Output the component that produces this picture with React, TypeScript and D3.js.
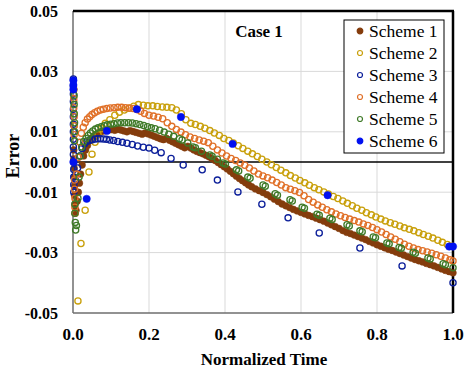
import React from 'react';
import * as d3 from 'd3';

// chart values (t = normalized time, v = error)
const scheme1: [number, number][] = [
  [0.002, 0.004], [0.002, 0.001], [0.003, -0.002], [0.003, -0.005], [0.004, -0.008], [0.004, -0.011], [0.005, -0.014], [0.005, -0.017],
  [0.008, -0.016], [0.011, -0.013], [0.014, -0.01], [0.017, -0.007], [0.02, -0.004], [0.024, -0.001], [0.028, 0.002], [0.033, 0.004],
  [0.038, 0.0055], [0.044, 0.007], [0.05, 0.008], [0.057, 0.0088], [0.064, 0.0094], [0.071, 0.0099], [0.078, 0.0102], [0.086, 0.0104],
  [0.094, 0.0106], [0.102, 0.0107], [0.11, 0.0105], [0.118, 0.0108], [0.126, 0.0106], [0.134, 0.0103], [0.142, 0.01], [0.15, 0.0104],
  [0.158, 0.0101], [0.166, 0.0098], [0.174, 0.0095], [0.182, 0.0092], [0.19, 0.0096], [0.198, 0.0093], [0.206, 0.0089], [0.214, 0.0085],
  [0.222, 0.0081], [0.23, 0.0077], [0.238, 0.0074], [0.246, 0.0078], [0.254, 0.0072], [0.262, 0.0067], [0.27, 0.0062], [0.278, 0.0057],
  [0.286, 0.0052], [0.294, 0.0047], [0.302, 0.0052], [0.31, 0.0046], [0.318, 0.004], [0.326, 0.0035], [0.334, 0.0031], [0.342, 0.0027],
  [0.35, 0.0022], [0.358, 0.0017], [0.366, 0.0011], [0.374, 0.0005], [0.382, -0.0002], [0.39, -0.0009], [0.398, -0.0016], [0.406, -0.0023],
  [0.414, -0.0031], [0.422, -0.0039], [0.43, -0.0047], [0.438, -0.0055], [0.446, -0.0062], [0.454, -0.0069], [0.462, -0.0076], [0.47, -0.0082],
  [0.48, -0.0089], [0.49, -0.0095], [0.5, -0.0101], [0.51, -0.0108], [0.52, -0.0115], [0.53, -0.0123], [0.54, -0.0131], [0.55, -0.0139],
  [0.56, -0.0145], [0.57, -0.0151], [0.58, -0.0157], [0.59, -0.0162], [0.6, -0.0167], [0.61, -0.0172], [0.62, -0.0177], [0.63, -0.0181],
  [0.64, -0.0186], [0.65, -0.0191], [0.66, -0.0196], [0.67, -0.0202], [0.68, -0.0208], [0.69, -0.0214], [0.7, -0.022], [0.71, -0.0227],
  [0.72, -0.0233], [0.73, -0.0237], [0.74, -0.0242], [0.75, -0.0247], [0.76, -0.0252], [0.77, -0.0257], [0.78, -0.0263], [0.79, -0.0268],
  [0.8, -0.0274], [0.81, -0.0279], [0.82, -0.0284], [0.83, -0.0289], [0.84, -0.0293], [0.85, -0.0298], [0.86, -0.0303], [0.87, -0.0308],
  [0.88, -0.0313], [0.89, -0.0318], [0.9, -0.0323], [0.91, -0.0327], [0.92, -0.0331], [0.93, -0.0336], [0.94, -0.034], [0.95, -0.0344],
  [0.96, -0.0349], [0.97, -0.0354], [0.98, -0.0359], [0.99, -0.0363], [1.0, -0.0367],
];

const scheme2: [number, number][] = [
  [0.002, 0.024], [0.002, 0.02], [0.003, 0.016], [0.003, 0.012],
  [0.013, -0.046], [0.021, -0.027], [0.032, -0.016], [0.042, -0.0033], [0.05, 0.0026],
  [0.058, 0.0065], [0.066, 0.009], [0.075, 0.011], [0.085, 0.0128], [0.097, 0.014], [0.11, 0.0155], [0.122, 0.0165], [0.135, 0.0172],
  [0.148, 0.0178], [0.16, 0.0185], [0.172, 0.019], [0.185, 0.0188], [0.197, 0.0186], [0.21, 0.0186], [0.222, 0.0184], [0.235, 0.0182],
  [0.247, 0.0181], [0.26, 0.018], [0.272, 0.0172], [0.285, 0.016], [0.297, 0.014], [0.31, 0.0128], [0.322, 0.0124], [0.335, 0.0118],
  [0.347, 0.0112], [0.36, 0.0104], [0.372, 0.0096], [0.385, 0.0088], [0.397, 0.0078], [0.41, 0.0071], [0.422, 0.0063], [0.435, 0.0054],
  [0.447, 0.0045], [0.46, 0.0036], [0.472, 0.0027], [0.485, 0.0018], [0.497, 0.0009], [0.51, 0.0], [0.522, -0.0009], [0.535, -0.0018],
  [0.547, -0.0027], [0.56, -0.0036], [0.572, -0.0045], [0.585, -0.0053], [0.597, -0.0061], [0.61, -0.0069], [0.622, -0.0077], [0.635, -0.0085],
  [0.647, -0.0092], [0.66, -0.0099], [0.672, -0.0106], [0.685, -0.0114], [0.697, -0.0121], [0.71, -0.0129], [0.722, -0.0137], [0.735, -0.0145],
  [0.747, -0.0153], [0.76, -0.016], [0.772, -0.0168], [0.785, -0.0175], [0.797, -0.0182], [0.81, -0.0189], [0.822, -0.0195], [0.835, -0.0201],
  [0.847, -0.0206], [0.86, -0.0212], [0.872, -0.0218], [0.885, -0.0223], [0.897, -0.0228], [0.91, -0.0234], [0.922, -0.024], [0.935, -0.0246],
  [0.947, -0.0252], [0.96, -0.0259], [0.972, -0.0266], [0.985, -0.0273], [0.997, -0.0279],
];

const scheme3: [number, number][] = [
  [0.001, 0.0275], [0.001, 0.025], [0.001, 0.0225], [0.001, 0.02], [0.001, 0.0175], [0.001, 0.015], [0.001, 0.0125], [0.001, 0.01],
  [0.001, 0.0075], [0.001, 0.005], [0.001, 0.0025], [0.002, 0.0], [0.002, -0.0025], [0.002, -0.005], [0.002, -0.0075], [0.002, -0.01],
  [0.006, -0.006], [0.012, -0.002], [0.018, 0.002], [0.024, 0.0045], [0.03, 0.006], [0.037, 0.0068], [0.044, 0.0072], [0.051, 0.0074],
  [0.058, 0.0076], [0.065, 0.0077], [0.072, 0.0077], [0.08, 0.0076], [0.088, 0.0075], [0.097, 0.0073], [0.107, 0.0071], [0.118, 0.0068],
  [0.13, 0.0065], [0.142, 0.0062], [0.156, 0.0058], [0.17, 0.0053], [0.185, 0.0049], [0.2, 0.0046], [0.215, 0.0039], [0.232, 0.0031],
  [0.258, 0.0012], [0.29, -0.001], [0.34, -0.0026], [0.38, -0.006], [0.434, -0.0099], [0.497, -0.014], [0.566, -0.0185], [0.648, -0.0235],
  [0.755, -0.0285], [0.866, -0.0344], [1.0, -0.04],
];

const scheme4: [number, number][] = [
  [0.002, 0.024], [0.002, 0.021], [0.002, 0.018], [0.003, 0.015], [0.003, 0.012], [0.003, 0.009], [0.004, -0.006], [0.004, -0.009],
  [0.005, -0.012], [0.005, -0.015], [0.006, -0.017],
  [0.01, -0.004], [0.014, 0.0015], [0.018, 0.0065], [0.022, 0.0095], [0.027, 0.0115], [0.032, 0.013], [0.038, 0.0142], [0.044, 0.015],
  [0.05, 0.0157], [0.057, 0.0163], [0.064, 0.0168], [0.072, 0.0172], [0.08, 0.0175], [0.089, 0.0177], [0.098, 0.0179], [0.108, 0.018],
  [0.118, 0.0181], [0.128, 0.0181], [0.138, 0.018], [0.148, 0.0179], [0.158, 0.0177], [0.168, 0.0174], [0.178, 0.0168], [0.188, 0.0161],
  [0.2, 0.0155], [0.212, 0.0152], [0.224, 0.0148], [0.236, 0.0143], [0.248, 0.013], [0.26, 0.0118], [0.272, 0.0108], [0.284, 0.0099],
  [0.296, 0.009], [0.308, 0.0083], [0.32, 0.0078], [0.332, 0.0073], [0.344, 0.0069], [0.356, 0.0064], [0.368, 0.0052], [0.38, 0.004],
  [0.392, 0.003], [0.404, 0.002], [0.416, 0.0012], [0.428, 0.0005], [0.44, -0.0003], [0.452, -0.0011], [0.464, -0.002], [0.476, -0.003],
  [0.488, -0.004], [0.5, -0.0046], [0.512, -0.0052], [0.524, -0.006], [0.536, -0.0068], [0.548, -0.0076], [0.56, -0.0085], [0.572, -0.009],
  [0.584, -0.0095], [0.596, -0.0101], [0.608, -0.0112], [0.62, -0.0124], [0.632, -0.0133], [0.644, -0.0142], [0.656, -0.015], [0.668, -0.0158],
  [0.68, -0.0165], [0.692, -0.0172], [0.704, -0.0178], [0.716, -0.0184], [0.728, -0.0189], [0.74, -0.0194], [0.752, -0.0199], [0.764, -0.0205],
  [0.776, -0.021], [0.788, -0.0217], [0.8, -0.0224], [0.812, -0.0232], [0.824, -0.024], [0.836, -0.0248], [0.848, -0.0256], [0.86, -0.0264],
  [0.872, -0.0272], [0.884, -0.0279], [0.896, -0.0285], [0.908, -0.029], [0.92, -0.0294], [0.932, -0.0298], [0.944, -0.0302], [0.956, -0.0307],
  [0.968, -0.0312], [0.98, -0.0318], [0.992, -0.0324], [1.0, -0.0328],
];

const scheme5: [number, number][] = [
  [0.003, 0.022], [0.003, 0.019], [0.003, 0.016], [0.004, 0.013], [0.004, 0.01], [0.004, 0.007], [0.005, -0.014], [0.005, -0.017],
  [0.006, -0.02], [0.007, -0.0225], [0.009, -0.021],
  [0.013, -0.012], [0.016, -0.005], [0.019, 0.002], [0.023, 0.005], [0.028, 0.0068], [0.034, 0.0078], [0.04, 0.0088], [0.046, 0.0096],
  [0.052, 0.0103], [0.059, 0.0109], [0.066, 0.0113], [0.074, 0.0117], [0.082, 0.012], [0.09, 0.0123], [0.099, 0.0125], [0.108, 0.0127],
  [0.117, 0.0129], [0.126, 0.013], [0.136, 0.013], [0.146, 0.013], [0.156, 0.0129], [0.166, 0.0127], [0.176, 0.0124], [0.186, 0.0121],
  [0.196, 0.0117], [0.206, 0.0113], [0.216, 0.011], [0.228, 0.0105], [0.24, 0.0099], [0.252, 0.0092], [0.265, 0.0085], [0.28, 0.0077],
  [0.287, 0.0073], [0.302, 0.0063], [0.316, 0.005], [0.322, 0.0047], [0.338, 0.0036], [0.36, 0.0023], [0.366, 0.0019], [0.38, 0.0009],
  [0.395, -0.0003], [0.401, -0.0007], [0.43, -0.0026], [0.436, -0.003], [0.46, -0.005], [0.466, -0.0054], [0.5, -0.0076], [0.506, -0.008],
  [0.532, -0.0105], [0.538, -0.011], [0.571, -0.0125], [0.577, -0.0129], [0.603, -0.015], [0.609, -0.0153], [0.642, -0.0173], [0.648, -0.0176],
  [0.676, -0.0186], [0.682, -0.019], [0.721, -0.0208], [0.727, -0.0212], [0.755, -0.0228], [0.761, -0.0231], [0.79, -0.0248], [0.796, -0.0251],
  [0.826, -0.0268], [0.832, -0.0271], [0.858, -0.0283], [0.864, -0.0286], [0.895, -0.0299], [0.901, -0.0302], [0.934, -0.0318], [0.94, -0.0321],
  [0.974, -0.0337], [0.98, -0.034], [1.0, -0.035],
];

const scheme6: [number, number][] = [
  [0.001, 0.027], [0.001, 0.0255], [0.001, 0.024], [0.001, 0.0], [0.036, -0.0122], [0.089, 0.0103], [0.168, 0.0175], [0.284, 0.0149],
  [0.42, 0.006], [0.67, -0.011], [0.99, -0.028], [1.0, -0.028],
];

const seriesNames = ['Scheme 1', 'Scheme 2', 'Scheme 3', 'Scheme 4', 'Scheme 5', 'Scheme 6'];
const yTicks = [0.05, 0.03, 0.01, 0.0, -0.01, -0.03, -0.05];
const yGrid = [0.03, 0.01, -0.01, -0.03];
const xTicks = [0, 0.2, 0.4, 0.6, 0.8, 1.0];

const styles = [
  { color: '#843c0c', filled: true, r: 3.4 },
  { color: '#c9a00c', filled: false, r: 3.1 },
  { color: '#0c1f9a', filled: false, r: 3.1 },
  { color: '#e07028', filled: false, r: 3.1 },
  { color: '#3f7a28', filled: false, r: 3.1 },
  { color: '#0010f0', filled: true, r: 3.7 },
];

const font = '"Liberation Serif", "Times New Roman", serif';

export default function App() {
  const W = 474, H = 372;
  const left = 73, right = 453, top = 11, bottom = 313;
  const x = d3.scaleLinear().domain([0, 1]).range([left, right]);
  const y = d3.scaleLinear().domain([-0.05, 0.05]).range([bottom, top]);
  const data = [scheme1, scheme2, scheme3, scheme4, scheme5, scheme6];

  return (
    <svg width={W} height={H} style={{ position: 'absolute', left: 0, top: 0, background: '#fff' }} fontFamily={font}>
      {/* grid */}
      {yGrid.map(v => (
        <line key={'gy' + v} x1={left} x2={right} y1={y(v)} y2={y(v)} stroke="#d9d9d9" strokeWidth={1} />
      ))}
      {xTicks.slice(1, -1).map(t => (
        <line key={'gx' + t} x1={x(t)} x2={x(t)} y1={top} y2={bottom} stroke="#d9d9d9" strokeWidth={1} />
      ))}
      {/* frame */}
      <line x1={left} x2={left} y1={top} y2={bottom} stroke="#6e6e6e" strokeWidth={1.5} />
      <line x1={left} x2={right} y1={bottom} y2={bottom} stroke="#6e6e6e" strokeWidth={1.5} />
      <line x1={left} x2={right + 1} y1={top} y2={top} stroke="#000" strokeWidth={2.5} />
      <line x1={right} x2={right} y1={top} y2={bottom} stroke="#000" strokeWidth={2.5} />
      <line x1={left} x2={right} y1={y(0)} y2={y(0)} stroke="#000" strokeWidth={1.5} />

      {/* points */}
      {data.map((pts, i) => (
        <g key={seriesNames[i]}>
          {pts.map(([t, v], j) => (
            <circle
              key={j}
              cx={x(t)}
              cy={y(v)}
              r={styles[i].r}
              fill={styles[i].filled ? styles[i].color : 'none'}
              stroke={styles[i].color}
              strokeWidth={styles[i].filled ? 0.5 : 1.3}
            />
          ))}
        </g>
      ))}

      {/* y tick labels */}
      {yTicks.map(v => (
        <text key={'ty' + v} x={58} y={y(v)} dy="0.35em" textAnchor="end" fontSize={16} fontWeight="bold">
          {d3.format('.2f')(v).replace('−', '-')}
        </text>
      ))}
      {/* x tick labels */}
      {xTicks.map(t => (
        <text key={'tx' + t} x={x(t)} y={340} textAnchor="middle" fontSize={17} fontWeight="bold">
          {d3.format('.1f')(t)}
        </text>
      ))}
      <text x={264} y={365} textAnchor="middle" fontSize={17} fontWeight="bold">Normalized Time</text>
      <text transform={`translate(19,156) rotate(-90)`} textAnchor="middle" fontSize={18} fontWeight="bold">Error</text>
      <text x={259} y={37} textAnchor="middle" fontSize={17} fontWeight="bold">Case 1</text>

      {/* legend */}
      <rect x={344} y={20} width={100} height={133} fill="#fff" stroke="#000" strokeWidth={1} />
      {seriesNames.map((name, i) => (
        <g key={'lg' + name} transform={`translate(360,${31 + i * 22})`}>
          <circle
            r={styles[i].filled ? 2.8 : 2.5}
            fill={styles[i].filled ? styles[i].color : 'none'}
            stroke={styles[i].color}
            strokeWidth={1.2}
          />
          <text x={9} dy="0.35em" fontSize={17.5}>{name}</text>
        </g>
      ))}
    </svg>
  );
}
